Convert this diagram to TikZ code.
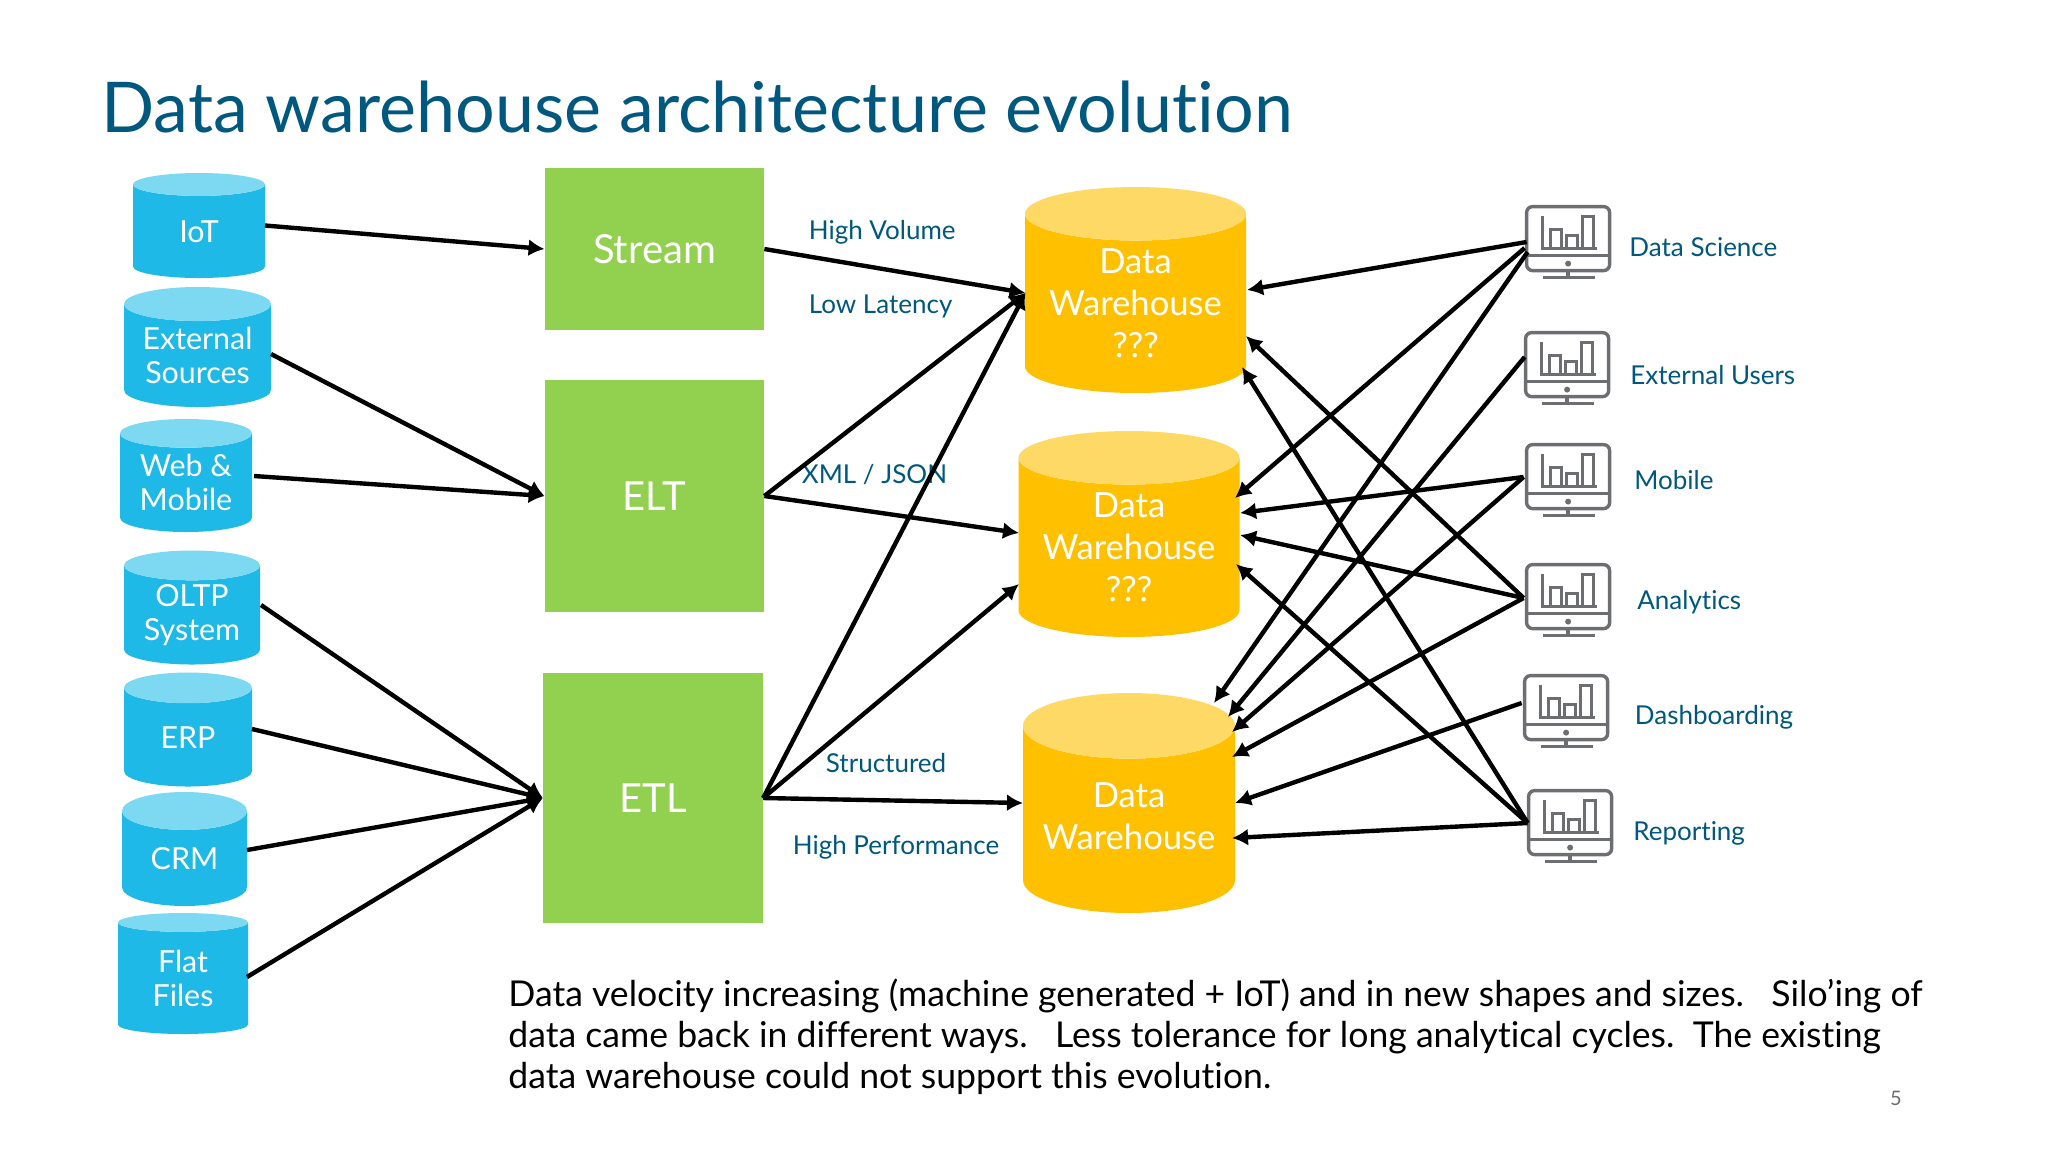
\documentclass[tikz,border=0pt]{standalone}
\usepackage{fontspec}
\setmainfont[Ligatures=NoCommon]{Lato}
\usetikzlibrary{arrows.meta,shapes.geometric}
\definecolor{srcblue}{HTML}{1FB9E8}
\definecolor{srctop}{HTML}{7DD8F2}
\definecolor{boxgreen}{HTML}{92D050}
\definecolor{dwgold}{HTML}{FFC000}
\definecolor{dwtop}{HTML}{FFD966}
\definecolor{labblue}{HTML}{00587F}
\definecolor{mongrey}{HTML}{6D6E71}
\tikzset{
  cyl/.style={cylinder, shape border rotate=90, draw=none, cylinder uses custom fill,
    inner sep=0pt, anchor=shape center, text=white, align=center},
  cylsize/.style 2 args={minimum width=#1*0.5pt, minimum height=#2*0.5pt},
  srccyl/.style={cyl, cylinder body fill=srcblue, cylinder end fill=srctop, aspect=0.31,
    font=\fontsize{15.2}{17}\selectfont},
  dwcyl/.style={cyl, cylinder body fill=dwgold, cylinder end fill=dwtop, aspect=0.31,
    font=\fontsize{17.3}{21}\selectfont},
  stagebox/.style={fill=boxgreen, text=white, inner sep=0pt, font=\fontsize{20}{24}\selectfont},
  flowlab/.style={text=labblue, anchor=west, inner sep=0pt, font=\fontsize{13}{15}\selectfont},
  monbox/.style={minimum width=41.5pt, minimum height=32pt, inner sep=0pt},
  link/.style={draw=black, line width=2.2pt, -{Latex[length=8pt,width=8.5pt]}},
  monitor/.pic={
    \draw[rounded corners=3pt] (0,0) rectangle (83,64);
    \draw (0,49) -- (83,49);
    \fill (41.5,57) circle (3);
    \draw (41.5,64) -- (41.5,71);
    \draw (16,71) -- (68,71);
    \draw (16,9) -- (16,42) -- (70,42);
    \draw (24,42) -- (24,23) -- (35,23) -- (35,42);
    \draw (40,42) -- (40,29) -- (51,29) -- (51,42);
    \draw (56,42) -- (56,10) -- (67,10) -- (67,42);
  }
}

\begin{document}
\begin{tikzpicture}[x=0.5pt,y=-0.5pt]
\useasboundingbox (0,0) rectangle (2048,1152);
\node[text=labblue, anchor=west, inner sep=0pt, font=\fontsize{35}{40}\selectfont] (title) at (101,107) {Data warehouse architecture evolution};

% sources
\node[srccyl, aspect=0.58, cylsize={132}{105}] (iot) at (199,225.5) {IoT};
\node[srccyl, cylsize={147}{120}] (ext) at (197.5,347) {External\\Sources};
\node[srccyl, cylsize={132}{113}] (web) at (186,475.5) {Web \&\\Mobile};
\node[srccyl, cylsize={136}{114}] (oltp) at (192,607.5) {OLTP\\System};
\node[srccyl, aspect=0.56, cylsize={128}{114}] (erp) at (188,729.5) {ERP};
\node[srccyl, aspect=0.56, cylsize={125}{114}] (crm) at (184.5,849) {CRM};
\node[srccyl, cylsize={130}{121}] (flat) at (183,973.5) {Flat\\Files};

% stages
\node[stagebox, minimum width=109.5pt, minimum height=81pt] (stream) at (654.5,249) {Stream};
\node[stagebox, minimum width=109.5pt, minimum height=116.25pt] (elt) at (654.5,496) {ELT};
\node[stagebox, minimum width=109.75pt, minimum height=125pt] (etl) at (653,798) {ETL};

% warehouses
\node[dwcyl, cylsize={221}{206}] (dwa) at (1135.5,290) {Data\\Warehouse\\???};
\node[dwcyl, cylsize={221}{206}] (dwb) at (1129,534) {Data\\Warehouse\\???};
\node[dwcyl, aspect=0.38, cylsize={212}{220}] (dwc) at (1129,803) {Data\\Warehouse\rule[-4pt]{0pt}{4pt}};

% flow labels
\node[flowlab] (hivol) at (808.5,232) {High Volume};
\node[flowlab] (lolat) at (808.5,306) {Low Latency};
\node[flowlab] (xml) at (801.5,474) {XML / JSON};
\node[flowlab] (struct) at (825.5,763) {Structured};
\node[flowlab] (hiperf) at (792.5,847) {High Performance};

% consumers
\node[monbox] (mona) at (1568.5,239) {};
\node[monbox] (monb) at (1567.5,365) {};
\node[monbox] (monc) at (1568.5,477) {};
\node[monbox] (mond) at (1568.5,597) {};
\node[monbox] (mone) at (1566.5,708) {};
\node[monbox] (monf) at (1570.5,823) {};
\begin{scope}[draw=mongrey, fill=mongrey, line width=1.7pt]
\pic at (mona.north west) {monitor};
\pic at (monb.north west) {monitor};
\pic at (monc.north west) {monitor};
\pic at (mond.north west) {monitor};
\pic at (mone.north west) {monitor};
\pic at (monf.north west) {monitor};
\end{scope}
\node[flowlab] (lsci) at (1629,247) {Data Science};
\node[flowlab] (lusr) at (1630,375) {External Users};
\node[flowlab] (lmob) at (1634,480) {Mobile};
\node[flowlab] (lana) at (1637,602) {Analytics};
\node[flowlab] (ldsh) at (1634.5,717) {Dashboarding};
\node[flowlab] (lrep) at (1633,833) {Reporting};

% into the stages
\draw[link] ([shift={(66,0)}]iot.shape center) -- (stream.west);
\draw[link] ([shift={(73.5,7)}]ext.shape center) -- (elt.west);
\draw[link] ([shift={(68,0.5)}]web.shape center) -- (elt.west);
\draw[link] ([shift={(69,-2.5)}]oltp.shape center) -- (etl.west);
\draw[link] ([shift={(64,-0.5)}]erp.shape center) -- (etl.west);
\draw[link] ([shift={(62.5,1)}]crm.shape center) -- (etl.west);
\draw[link] ([shift={(64,3.5)}]flat.shape center) -- (etl.west);

% into the warehouses
\draw[link] (stream.east) -- ([shift={(-110,3)}]dwa.shape center);
\draw[link] (elt.east) -- ([shift={(-110,3)}]dwa.shape center);
\draw[link] (elt.east) -- ([shift={(-110,-1)}]dwb.shape center);
\draw[link] (etl.east) -- ([shift={(-110,3)}]dwa.shape center);
\draw[link] (etl.east) -- ([shift={(-110,50)}]dwb.shape center);
\draw[link] (etl.east) -- ([shift={(-106,0)}]dwc.shape center);

% consumers to warehouses
\draw[link] ([shift={(0,3)}]mona.west) -- ([shift={(111.5,0)}]dwa.shape center);
\draw[link] ([shift={(-2,9)}]mona.west) -- ([shift={(106,-36)}]dwb.shape center);
\draw[link] ([shift={(1,13)}]mona.west) -- ([shift={(85,-100)}]dwc.shape center);
\draw[link] ([shift={(-1,-8)}]monb.west) -- ([shift={(99,-86)}]dwc.shape center);
\draw[link] ([shift={(-3,0)}]monc.west) -- ([shift={(111,-21)}]dwb.shape center);
\draw[link] ([shift={(-3,0)}]monc.west) -- ([shift={(103,-71)}]dwc.shape center);
\draw[link] ([shift={(-3,1)}]mond.west) -- ([shift={(110.5,46)}]dwa.shape center);
\draw[link] ([shift={(-3,1)}]mond.west) -- ([shift={(111,1)}]dwb.shape center);
\draw[link] ([shift={(-3,1)}]mond.west) -- ([shift={(103,-46)}]dwc.shape center);
\draw[link] ([shift={(-3,-5)}]mone.west) -- ([shift={(106,0)}]dwc.shape center);
\draw[link] ([shift={(-1,0)}]monf.west) -- ([shift={(106.5,77)}]dwa.shape center);
\draw[link] ([shift={(-1,0)}]monf.west) -- ([shift={(107,30)}]dwb.shape center);
\draw[link] ([shift={(-1,0)}]monf.west) -- ([shift={(103,35)}]dwc.shape center);

\node[anchor=north west, inner sep=0pt, align=left, font=\fontsize{17.8}{20.6}\selectfont] (note) at (508,978.5) {Data velocity increasing (machine generated + IoT) and in new shapes and sizes.\ \ \ Silo'ing of\\data came back in different ways.\ \ \ Less tolerance for long analytical cycles.\ \ The existing\\data warehouse could not support this evolution.};
\node[text=mongrey, inner sep=0pt, font=\fontsize{10}{12}\selectfont] (pageno) at (1896,1098) {5};
\end{tikzpicture}
\end{document}
